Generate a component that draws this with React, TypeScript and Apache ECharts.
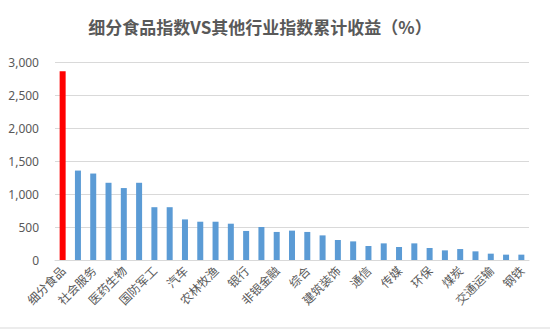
import React, { useEffect, useRef } from "react";
import * as echarts from "echarts";

const categories = [
  "细分食品", "食品饮料", "社会服务", "家用电器", "医药生物", "电子", "国防军工", "计算机",
  "汽车", "电力设备", "农林牧渔", "有色金属", "银行", "房地产", "非银金融", "建筑材料",
  "综合", "机械设备", "建筑装饰", "基础化工", "通信", "轻工制造", "传媒", "商贸零售",
  "环保", "公用事业", "煤炭", "纺织服饰", "交通运输", "石油石化", "钢铁",
];
const values = [
  2860, 1355, 1310, 1170, 1090, 1170, 800, 800,
  615, 580, 580, 550, 440, 500, 425, 445,
  425, 373, 303, 282, 212, 252, 197, 252,
  182, 146, 166, 131, 96, 81, 81,
];
const yTicks = [0, 500, 1000, 1500, 2000, 2500, 3000];
const highlightIndex = 0;

export default function App() {
  const ref = useRef<HTMLDivElement>(null);
  useEffect(() => {
    if (!ref.current) return;
    const chart = echarts.init(ref.current, null, { renderer: "svg" });
    chart.setOption({
      animation: false,
      backgroundColor: "#ffffff",
      title: {
        text: "细分食品指数VS其他行业指数累计收益（%）",
        left: 255,
        textAlign: "center",
        top: 13,
        textStyle: {
          fontFamily: "Noto Sans CJK SC",
          fontSize: 17,
          fontWeight: "bold",
          color: "#595959",
        },
      },
      grid: { left: 55, right: 21, top: 62, bottom: 71, containLabel: false },
      xAxis: {
        type: "category",
        data: categories,
        axisLine: { show: true, lineStyle: { color: "#d9d9d9" } },
        axisTick: { show: false },
        axisLabel: {
          interval: 1,
          rotate: 45,
          margin: 8,
          fontSize: 12,
          color: "#595959",
          fontFamily: "Noto Sans CJK SC",
        },
      },
      yAxis: {
        type: "value",
        min: yTicks[0],
        max: yTicks[yTicks.length - 1],
        interval: 500,
        axisLine: { show: false },
        axisTick: { show: false },
        splitLine: { lineStyle: { color: "#d9d9d9" } },
        axisLabel: {
          margin: 16,
          fontSize: 12,
          color: "#595959",
          fontFamily: "Noto Sans",
          formatter: (v: number) => v.toLocaleString("en-US"),
        },
      },
      series: [
        {
          type: "bar",
          barWidth: 6,
          data: values.map((v, i) => ({
            value: v,
            itemStyle: { color: i === highlightIndex ? "#ff0000" : "#5b9bd5" },
          })),
        },
      ],
      graphic: [
        {
          type: "line",
          shape: { x1: 0, y1: 328, x2: 550, y2: 328 },
          style: { stroke: "#d9d9d9", lineWidth: 1 },
        },
      ],
    });
    return () => chart.dispose();
  }, []);
  return (
    <div
      ref={ref}
      style={{ position: "fixed", left: 0, top: 0, width: 550, height: 331 }}
    />
  );
}
